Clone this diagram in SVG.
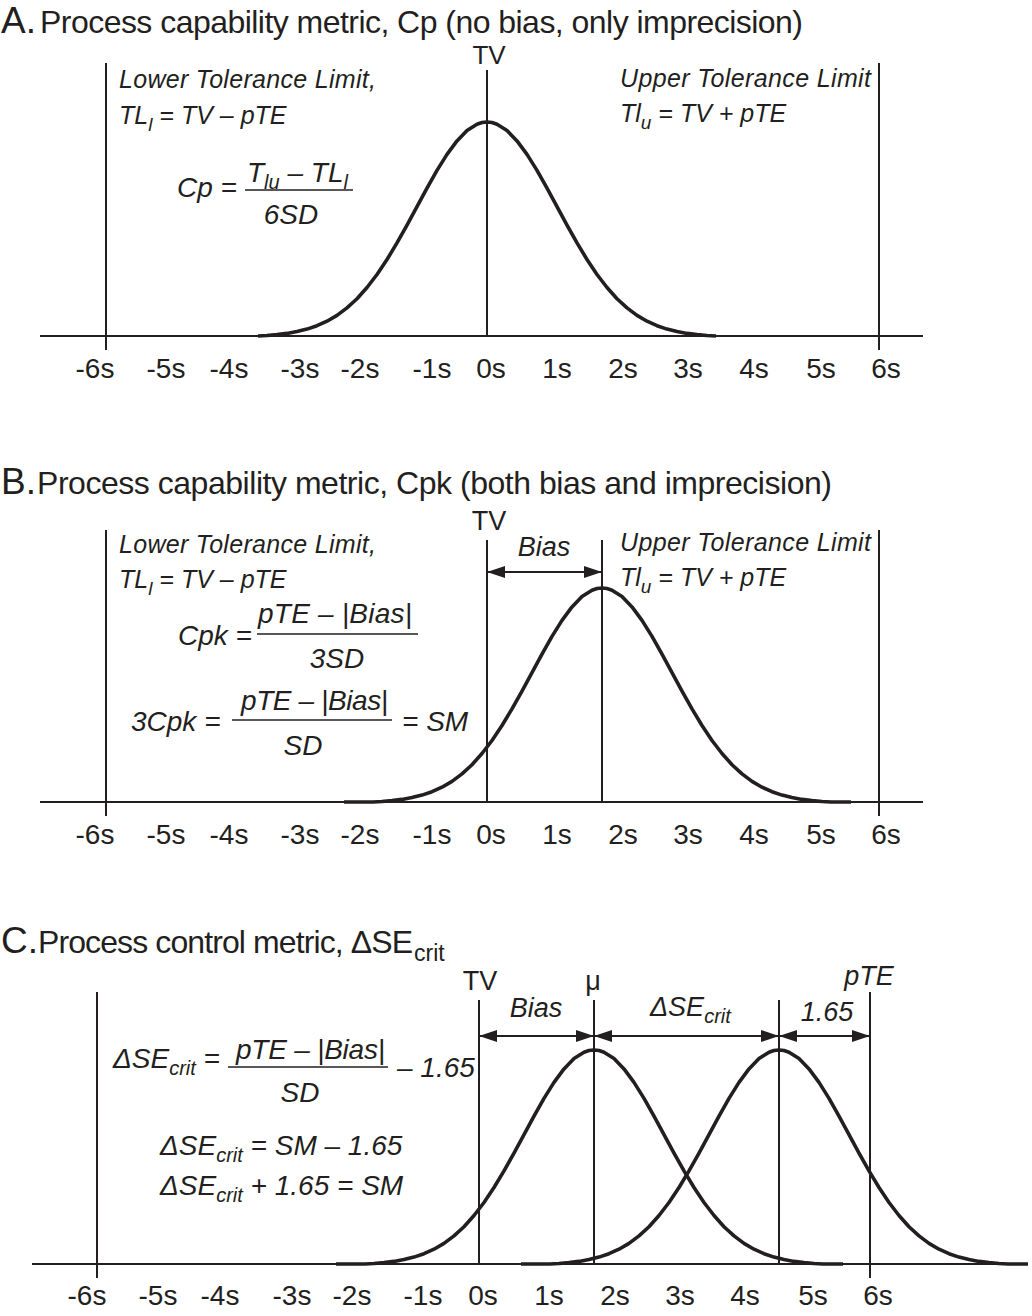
<svg xmlns="http://www.w3.org/2000/svg" xmlns:xlink="http://www.w3.org/1999/xlink" width="1032" height="1316" viewBox="0 0 1032 1316">
<style>
.t{font-family:"Liberation Sans",Arial,sans-serif;fill:#231f20}
.i{font-style:italic}
.s25{font-size:25px}
.s27{font-size:27px}
.s28{font-size:28px}
.tk{font-size:28px;text-anchor:middle}
.ttl{font-size:32px}
.big{font-size:37px}
.mid{text-anchor:middle}
.ln{stroke:#231f20;stroke-width:2;fill:none}
.ax{stroke:#231f20;stroke-width:2;fill:none}
.fr{stroke:#231f20;stroke-width:1.6;fill:none}
.bell{stroke:#231f20;stroke-width:3.6;fill:none;stroke-linejoin:round;stroke-linecap:butt}
.arr{stroke:#231f20;stroke-width:2;fill:none;marker-start:url(#ah);marker-end:url(#ah)}
</style>
<defs>
<marker id="ah" viewBox="0 0 18 12" refX="18" refY="6" markerWidth="18" markerHeight="12" markerUnits="userSpaceOnUse" orient="auto-start-reverse">
<path d="M0,0 L18,6 L0,12 z" fill="#231f20"/>
</marker>
<path id="bellA" d="M-229,214 L-220,213.5 L-210,212.6 L-200,211.4 L-190,209.6 L-180,207.1 L-170,203.7 L-160,199.2 L-150,193.4 L-140,185.9 L-130,176.7 L-120,165.5 L-110,152.5 L-100,137.5 L-90,120.9 L-80,103.1 L-70,84.6 L-60,66.1 L-50,48.4 L-40,32.4 L-30,18.9 L-20,8.6 L-10,2.2 L-5,0.55 L0,0 L5,0.55 L10,2.2 L20,8.6 L30,18.9 L40,32.4 L50,48.4 L60,66.1 L70,84.6 L80,103.1 L90,120.9 L100,137.5 L110,152.5 L120,165.5 L130,176.7 L140,185.9 L150,193.4 L160,199.2 L170,203.7 L180,207.1 L190,209.6 L200,211.4 L210,212.6 L220,213.5 L229,214"/>
<path id="bellB" d="M-258,214 L-229,214 L-220,213.5 L-210,212.6 L-200,211.4 L-190,209.6 L-180,207.1 L-170,203.7 L-160,199.2 L-150,193.4 L-140,185.9 L-130,176.7 L-120,165.5 L-110,152.5 L-100,137.5 L-90,120.9 L-80,103.1 L-70,84.6 L-60,66.1 L-50,48.4 L-40,32.4 L-30,18.9 L-20,8.6 L-10,2.2 L-5,0.55 L0,0 L5,0.55 L10,2.2 L20,8.6 L30,18.9 L40,32.4 L50,48.4 L60,66.1 L70,84.6 L80,103.1 L90,120.9 L100,137.5 L110,152.5 L120,165.5 L130,176.7 L140,185.9 L150,193.4 L160,199.2 L170,203.7 L180,207.1 L190,209.6 L200,211.4 L210,212.6 L220,213.5 L229,214 L249,214"/>
</defs>
<rect width="1032" height="1316" fill="#ffffff"/>

<!-- Panel A -->
<g id="panelA">
<text class="t big" x="1" y="33">A.</text>
<text class="t ttl" x="40" y="33" textLength="763">Process capability metric, Cp (no bias, only imprecision)</text>
<line class="ax" x1="40" y1="336" x2="923" y2="336"/>
<line class="ln" x1="106" y1="63" x2="106" y2="350"/>
<line class="ln" x1="879" y1="63" x2="879" y2="350"/>
<line class="ln" x1="487" y1="70" x2="487" y2="336"/>
<use xlink:href="#bellA" href="#bellA" class="bell" transform="translate(487,122)"/>
<text class="t mid" font-size="26" x="489" y="64">TV</text>
<text class="t i s25" x="119" y="88" textLength="257">Lower Tolerance Limit,</text>
<text class="t i s25" x="119" y="124">TL<tspan dy="7" font-size="19">l</tspan><tspan dy="-7"> = TV – pTE</tspan></text>
<text class="t i s25" x="620" y="87" textLength="251">Upper Tolerance Limit</text>
<text class="t i s25" x="620" y="122">Tl<tspan dy="7" font-size="19">u</tspan><tspan dy="-7"> = TV + pTE</tspan></text>
<text class="t i s28" x="177" y="197">Cp =</text>
<text class="t i s28" x="247" y="182">T<tspan dy="7" font-size="20">lu</tspan><tspan dy="-7"> – TL</tspan><tspan dy="7" font-size="20">l</tspan></text>
<line class="fr" x1="245" y1="190" x2="353" y2="190"/>
<text class="t i s28 mid" x="291" y="224">6SD</text>
<g id="ticksA">
<text class="t tk" x="95" y="378">-6s</text>
<text class="t tk" x="166" y="378">-5s</text>
<text class="t tk" x="229" y="378">-4s</text>
<text class="t tk" x="300" y="378">-3s</text>
<text class="t tk" x="360" y="378">-2s</text>
<text class="t tk" x="432" y="378">-1s</text>
<text class="t tk" x="491" y="378">0s</text>
<text class="t tk" x="557" y="378">1s</text>
<text class="t tk" x="623" y="378">2s</text>
<text class="t tk" x="688" y="378">3s</text>
<text class="t tk" x="754" y="378">4s</text>
<text class="t tk" x="821" y="378">5s</text>
<text class="t tk" x="886" y="378">6s</text>
</g>
</g>

<!-- Panel B -->
<g id="panelB">
<text class="t big" x="1" y="494">B.</text>
<text class="t ttl" x="37" y="494" textLength="795">Process capability metric, Cpk (both bias and imprecision)</text>
<line class="ax" x1="40" y1="802" x2="923" y2="802"/>
<line class="ln" x1="106" y1="530" x2="106" y2="816"/>
<line class="ln" x1="879" y1="530" x2="879" y2="816"/>
<line class="ln" x1="487" y1="540" x2="487" y2="802"/>
<line class="ln" x1="602" y1="540" x2="602" y2="802"/>
<use xlink:href="#bellB" href="#bellB" class="bell" transform="translate(602,588)"/>
<text class="t s27 mid" x="489" y="530">TV</text>
<text class="t i s27 mid" x="544" y="556">Bias</text>
<text class="t i s25" x="119" y="553" textLength="257">Lower Tolerance Limit,</text>
<text class="t i s25" x="119" y="588">TL<tspan dy="7" font-size="19">l</tspan><tspan dy="-7"> = TV – pTE</tspan></text>
<text class="t i s25" x="620" y="551" textLength="251">Upper Tolerance Limit</text>
<text class="t i s25" x="620" y="586">Tl<tspan dy="7" font-size="19">u</tspan><tspan dy="-7"> = TV + pTE</tspan></text>
<text class="t i s28" x="178" y="645">Cpk =</text>
<text class="t i s28" x="258" y="623" textLength="154">pTE – |Bias|</text>
<line class="fr" x1="257" y1="634" x2="418" y2="634"/>
<text class="t i s28 mid" x="337" y="668">3SD</text>
<text class="t i s28" x="131" y="731">3Cpk =</text>
<text class="t i s28" x="241" y="710" textLength="147">pTE – |Bias|</text>
<line class="fr" x1="232" y1="720" x2="392" y2="720"/>
<text class="t i s28 mid" x="303" y="755">SD</text>
<text class="t i s28" x="402" y="731">= SM</text>
<g id="ticksB">
<text class="t tk" x="95" y="844">-6s</text>
<text class="t tk" x="166" y="844">-5s</text>
<text class="t tk" x="229" y="844">-4s</text>
<text class="t tk" x="300" y="844">-3s</text>
<text class="t tk" x="360" y="844">-2s</text>
<text class="t tk" x="432" y="844">-1s</text>
<text class="t tk" x="491" y="844">0s</text>
<text class="t tk" x="557" y="844">1s</text>
<text class="t tk" x="623" y="844">2s</text>
<text class="t tk" x="688" y="844">3s</text>
<text class="t tk" x="754" y="844">4s</text>
<text class="t tk" x="821" y="844">5s</text>
<text class="t tk" x="886" y="844">6s</text>
</g>
</g>

<!-- Panel C -->
<g id="panelC">
<text class="t big" x="1" y="953">C.</text>
<text class="t ttl" x="38" y="953" textLength="375">Process control metric, ΔSE</text>
<text class="t" x="414" y="961" font-size="23">crit</text>
<line class="ax" x1="32" y1="1264" x2="1028" y2="1264"/>
<line class="ln" x1="97" y1="992" x2="97" y2="1278"/>
<line class="ln" x1="870" y1="992" x2="870" y2="1278"/>
<line class="ln" x1="479" y1="1000" x2="479" y2="1264"/>
<line class="ln" x1="594" y1="1000" x2="594" y2="1264"/>
<line class="ln" x1="779" y1="1000" x2="779" y2="1264"/>
<use xlink:href="#bellB" href="#bellB" class="bell" transform="translate(594,1050)"/>
<use xlink:href="#bellB" href="#bellB" class="bell" transform="translate(779,1050)"/>
<text class="t s27 mid" x="480" y="990">TV</text>
<text class="t s27 mid" x="593" y="990">μ</text>
<text class="t i s27 mid" x="869" y="985">pTE</text>
<text class="t i s27 mid" x="536" y="1017">Bias</text>
<text class="t i s27" x="650" y="1016">ΔSE<tspan dy="7" font-size="20">crit</tspan></text>
<text class="t i s27 mid" x="827" y="1021">1.65</text>
<text class="t i s28" x="113" y="1068">ΔSE<tspan dy="7" font-size="20">crit</tspan><tspan dy="-7"> =</tspan></text>
<text class="t i s28" x="236" y="1059" textLength="149">pTE – |Bias|</text>
<line class="fr" x1="228" y1="1067" x2="388" y2="1067"/>
<text class="t i s28 mid" x="300" y="1102">SD</text>
<text class="t i s28" x="397" y="1077">– 1.65</text>
<text class="t i s28" x="160" y="1155">ΔSE<tspan dy="7" font-size="20">crit</tspan><tspan dy="-7"> = SM – 1.65</tspan></text>
<text class="t i s28" x="160" y="1195">ΔSE<tspan dy="7" font-size="20">crit</tspan><tspan dy="-7"> + 1.65 = SM</tspan></text>
<g id="ticksC">
<text class="t tk" x="87" y="1305">-6s</text>
<text class="t tk" x="158" y="1305">-5s</text>
<text class="t tk" x="220" y="1305">-4s</text>
<text class="t tk" x="292" y="1305">-3s</text>
<text class="t tk" x="352" y="1305">-2s</text>
<text class="t tk" x="423" y="1305">-1s</text>
<text class="t tk" x="483" y="1305">0s</text>
<text class="t tk" x="549" y="1305">1s</text>
<text class="t tk" x="615" y="1305">2s</text>
<text class="t tk" x="680" y="1305">3s</text>
<text class="t tk" x="745" y="1305">4s</text>
<text class="t tk" x="813" y="1305">5s</text>
<text class="t tk" x="878" y="1305">6s</text>
</g>
</g>

<!-- Connectors (dimension arrows) -->
<g id="connectors">
<line class="arr" x1="487" y1="572" x2="602" y2="572"/>
<line class="arr" x1="479" y1="1036" x2="594" y2="1036"/>
<line class="arr" x1="594" y1="1036" x2="779" y2="1036"/>
<line class="arr" x1="779" y1="1036" x2="870" y2="1036"/>
</g>
</svg>
